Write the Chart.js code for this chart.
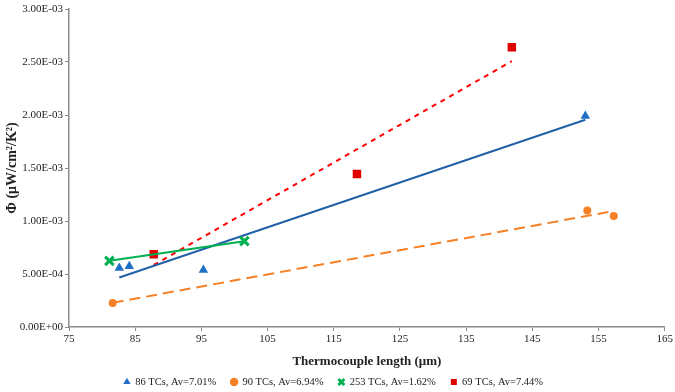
<!DOCTYPE html>
<html>
<head>
<meta charset="utf-8">
<script src="https://cdn.jsdelivr.net/npm/chart.js@4/dist/chart.umd.min.js"></script>
<style>
  html, body { margin: 0; padding: 0; background: #fff; }
  #wrap { width: 675px; height: 392px; }
</style>
</head>
<body>
<div id="wrap"><canvas id="myChart" width="675" height="392"></canvas></div>
<script>
'use strict';

// -------------------- data --------------------
const blueX = [82.6, 84.1, 95.3, 153.0];
const blueY = [5.56e-4, 5.74e-4, 5.37e-4, 1.99e-3];
const orangeX = [81.6, 153.3, 157.3];
const orangeY = [2.26e-4, 1.10e-3, 1.046e-3];
const greenX = [81.1, 101.5];
const greenY = [6.24e-4, 8.10e-4];
const redX = [87.8, 118.5, 141.9];
const redY = [6.86e-4, 1.443e-3, 2.64e-3];

const labels = ['86 TCs, Av=7.01%', '90 TCs, Av=6.94%', '253 TCs, Av=1.62%', '69 TCs, Av=7.44%'];

// -------------------- helpers --------------------
function toPoints(xs, ys) {
  return xs.map((x, i) => ({x: x, y: ys[i]}));
}

// 線形近似（最小二乗）の両端点
function trend(xs, ys) {
  const n = xs.length;
  const mx = xs.reduce((a, b) => a + b, 0) / n;
  const my = ys.reduce((a, b) => a + b, 0) / n;
  let sxx = 0, sxy = 0;
  xs.forEach((x, i) => {
    sxx += (x - mx) * (x - mx);
    sxy += (x - mx) * (ys[i] - my);
  });
  const k = sxy / sxx;
  const x0 = Math.min(...xs), x1 = Math.max(...xs);
  return [{x: x0, y: my + k * (x0 - mx)}, {x: x1, y: my + k * (x1 - mx)}];
}

function sci(v) {
  if (v === 0) return '0.00E+00';
  const e = Math.floor(Math.log10(Math.abs(v)) + 1e-9);
  const m = v / Math.pow(10, e);
  const sign = e < 0 ? '-' : '+';
  return m.toFixed(2) + 'E' + sign + String(Math.abs(e)).padStart(2, '0');
}

// -------------------- Chart.js --------------------
{
  const font = 'Liberation Serif';
  const axisColor = '#8c8c8c';
  const legendFont = 10.5;
  const legendPad = 15;
  const legendH = 20;
  const legendY = 382;

  // 凡例の高さを詰めて、位置を下げる
  const legendShift = {
    id: 'legendShift',
    beforeLayout(chart) {
      const lg = chart.legend;
      if (lg && !lg.patched) {
        const fit = lg.fit;
        lg.fit = function() { fit.call(this); this.height = legendH; };
        lg.patched = true;
      }
    },
    afterLayout(chart) {
      if (chart.legend) chart.legend.top = legendY - legendPad - legendFont / 2;
    }
  };

  const ctx = document.getElementById('myChart').getContext('2d');

  new Chart(ctx, {
    type: 'scatter',
    plugins: [legendShift],
    data: {
      datasets: [
        {
          label: labels[0], data: toPoints(blueX, blueY), order: 0,
          pointStyle: 'triangle', pointRadius: 5.5, backgroundColor: '#1f6fc5', borderColor: '#1f6fc5', borderWidth: 0,
        },
        {
          label: labels[1], data: toPoints(orangeX, orangeY), order: 0,
          pointStyle: 'circle', pointRadius: 4, backgroundColor: '#f58025', borderColor: '#f58025', borderWidth: 0,
        },
        {
          label: labels[2], data: toPoints(greenX, greenY), order: 0, showLine: true,
          pointStyle: 'crossRot', pointRadius: 6, borderColor: '#00b050', backgroundColor: '#00b050', borderWidth: 2, pointBorderWidth: 3,
        },
        {
          label: labels[3], data: toPoints(redX, redY), order: 0,
          pointStyle: 'rect', pointRadius: 6, backgroundColor: '#e00000', borderColor: '#e00000', borderWidth: 0,
        },
        // 近似曲線
        {
          label: 'trend_blue', data: trend(blueX, blueY), order: 1, showLine: true, pointRadius: 0,
          borderColor: '#2260a8', borderWidth: 2,
        },
        {
          label: 'trend_orange', data: trend(orangeX, orangeY), order: 1, showLine: true, pointRadius: 0,
          borderColor: '#f58025', borderWidth: 2, borderDash: [11, 6],
        },
        {
          label: 'trend_red', data: trend(redX, redY), order: 1, showLine: true, pointRadius: 0,
          borderColor: '#ff0000', borderWidth: 2, borderDash: [5, 5],
        },
      ]
    },
    options: {
      responsive: false,
      animation: false,
      layout: { padding: { top: 0, right: 8, left: 0, bottom: 0 } },
      plugins: {
        tooltip: { enabled: false },
        legend: {
          position: 'bottom',
          labels: {
            usePointStyle: true,
            boxWidth: 6, boxHeight: 6,
            padding: legendPad,
            color: '#222',
            font: { family: font, size: legendFont },
            filter: item => !item.text.startsWith('trend'),
          }
        }
      },
      scales: {
        x: {
          type: 'linear',
          min: 75, max: 165,
          afterFit: s => { s.height = 45; },
          ticks: { stepSize: 10, color: '#222', font: { family: font, size: 11 }, padding: 2, maxRotation: 0 },
          grid: { drawOnChartArea: false, drawTicks: true, tickLength: 4, color: axisColor },
          border: { color: axisColor, width: 1.5 },
          title: {
            display: true, text: 'Thermocouple length (μm)', color: '#222',
            font: { family: font, size: 13, weight: 'bold' }, padding: { top: 2, bottom: 3 }
          }
        },
        y: {
          min: 0, max: 0.003,
          afterFit: s => { s.width = 69; },
          ticks: { stepSize: 0.0005, color: '#222', font: { family: font, size: 11, lineHeight: 0.9 }, padding: 2, callback: v => sci(v) },
          grid: { drawOnChartArea: false, drawTicks: true, tickLength: 4, color: axisColor },
          border: { color: axisColor, width: 1.5 },
          title: {
            display: true, text: 'Φ (μW/cm²/K²)', color: '#222',
            font: { family: font, size: 14, weight: 'bold' }, padding: { top: 4, bottom: 0 }
          }
        }
      }
    }
  });
}
</script>
</body>
</html>
